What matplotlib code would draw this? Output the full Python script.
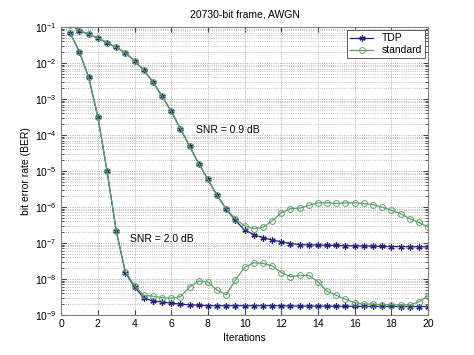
import numpy as np
import matplotlib
matplotlib.use('Agg')
import matplotlib.pyplot as plt

# iterations, half-step sampling
iters = np.arange(0.5, 20.01, 0.5)

# SNR = 0.9 dB
tdp_09 = [0.117, 0.079, 0.063, 0.049, 0.037, 0.027, 0.019, 0.0115, 0.0063, 0.0030,
          0.0012, 4.5e-4, 1.5e-4, 4.9e-5, 1.6e-5, 5.8e-6, 2.1e-6, 8.7e-7, 4.2e-7, 2.3e-7,
          1.7e-7, 1.4e-7, 1.2e-7, 1.07e-7, 9.6e-8, 9.0e-8, 8.8e-8, 8.7e-8, 8.6e-8, 8.5e-8,
          8.4e-8, 8.3e-8, 8.2e-8, 8.1e-8, 8.0e-8, 7.9e-8, 7.9e-8, 7.8e-8, 7.8e-8, 7.7e-8]
std_09 = [0.117, 0.079, 0.063, 0.049, 0.037, 0.027, 0.019, 0.0115, 0.0063, 0.0030,
          0.0012, 4.5e-4, 1.5e-4, 4.9e-5, 1.6e-5, 5.8e-6, 2.1e-6, 8.9e-7, 4.6e-7, 3.0e-7,
          2.5e-7, 2.7e-7, 4.1e-7, 6.9e-7, 8.9e-7, 9.3e-7, 1.1e-6, 1.3e-6, 1.3e-6, 1.25e-6,
          1.3e-6, 1.3e-6, 1.25e-6, 1.15e-6, 9.8e-7, 8.1e-7, 6.5e-7, 4.7e-7, 3.7e-7, 2.8e-7]

# SNR = 2.0 dB
tdp_20 = [0.067, 0.020, 0.004, 3.2e-4, 1.0e-5, 2.2e-7, 1.5e-8, 6.0e-9, 3.0e-9, 2.4e-9,
          2.3e-9, 2.1e-9, 2.0e-9, 1.9e-9, 1.85e-9, 1.8e-9, 1.8e-9, 1.8e-9, 1.8e-9, 1.8e-9,
          1.8e-9, 1.8e-9, 1.8e-9, 1.78e-9, 1.77e-9, 1.76e-9, 1.75e-9, 1.75e-9, 1.74e-9, 1.74e-9,
          1.73e-9, 1.73e-9, 1.72e-9, 1.72e-9, 1.71e-9, 1.71e-9, 1.7e-9, 1.7e-9, 1.7e-9, 1.7e-9]
std_20 = [0.067, 0.020, 0.004, 3.2e-4, 1.0e-5, 2.2e-7, 1.6e-8, 6.5e-9, 3.5e-9, 3.3e-9,
          3.0e-9, 2.9e-9, 3.2e-9, 5.9e-9, 8.7e-9, 8.3e-9, 4.9e-9, 3.6e-9, 9.3e-9, 2.1e-8,
          2.8e-8, 2.7e-8, 2.3e-8, 1.5e-8, 1.15e-8, 1.25e-8, 1.25e-8, 8.3e-9, 4.5e-9, 3.5e-9,
          2.7e-9, 2.2e-9, 2.0e-9, 2.0e-9, 1.9e-9, 1.9e-9, 1.9e-9, 1.9e-9, 2.3e-9, 3.4e-9]

plt.rcParams['font.family'] = ['Liberation Sans', 'DejaVu Sans']
plt.rcParams['font.size'] = 7.5

fig = plt.figure(figsize=(4.74, 3.55), dpi=100)
ax = fig.add_axes([0.129, 0.113, 0.774, 0.811])

tdp_col = '#22227a'
std_col = '#5f9f6a'
star = (6, 2, 0)

ax.semilogy(iters, tdp_09, '-', marker=star, color=tdp_col, lw=0.9, ms=4.5, mew=0.9, label='TDP')
ax.semilogy(iters, std_09, '-o', color=std_col, lw=0.9, ms=4.2, mfc='none', mew=0.7, label='standard')
ax.semilogy(iters, tdp_20, '-', marker=star, color=tdp_col, lw=0.9, ms=4.5, mew=0.9)
ax.semilogy(iters, std_20, '-o', color=std_col, lw=0.9, ms=4.2, mfc='none', mew=0.7)

ax.set_xlim(0, 20)
ax.set_ylim(1e-9, 1e-1)
ax.set_xticks(np.arange(0, 21, 2))
ax.set_yticks([10.0**k for k in range(-9, 0)])
ax.grid(True, which='major', linestyle=':', color='#9a9a9a', lw=0.6)
ax.grid(True, which='minor', axis='y', linestyle=':', color='#aaaaaa', lw=0.6)
ax.tick_params(which='both', direction='in', top=True, right=True, colors='#404040',
               labelcolor='black', labelsize=7.5, pad=3)
for s in ax.spines.values():
    s.set_color('#808080')

ax.set_title('20730-bit frame, AWGN', fontsize=7.5, pad=7)
ax.set_xlabel('Iterations', labelpad=3)
ax.set_ylabel('bit error rate (BER)', labelpad=3)

ax.text(7.35, 10**-3.86, 'SNR = 0.9 dB', va='center')
ax.text(3.75, 10**-6.89, 'SNR = 2.0 dB', va='center')

leg = ax.legend(loc='upper right', fancybox=False, edgecolor='#404040', framealpha=1,
                borderpad=0.3, labelspacing=0.2, handlelength=2.2, fontsize=7.5,
                borderaxespad=0.3)
leg.get_frame().set_linewidth(0.6)

fig.savefig('out.png', dpi=100)
